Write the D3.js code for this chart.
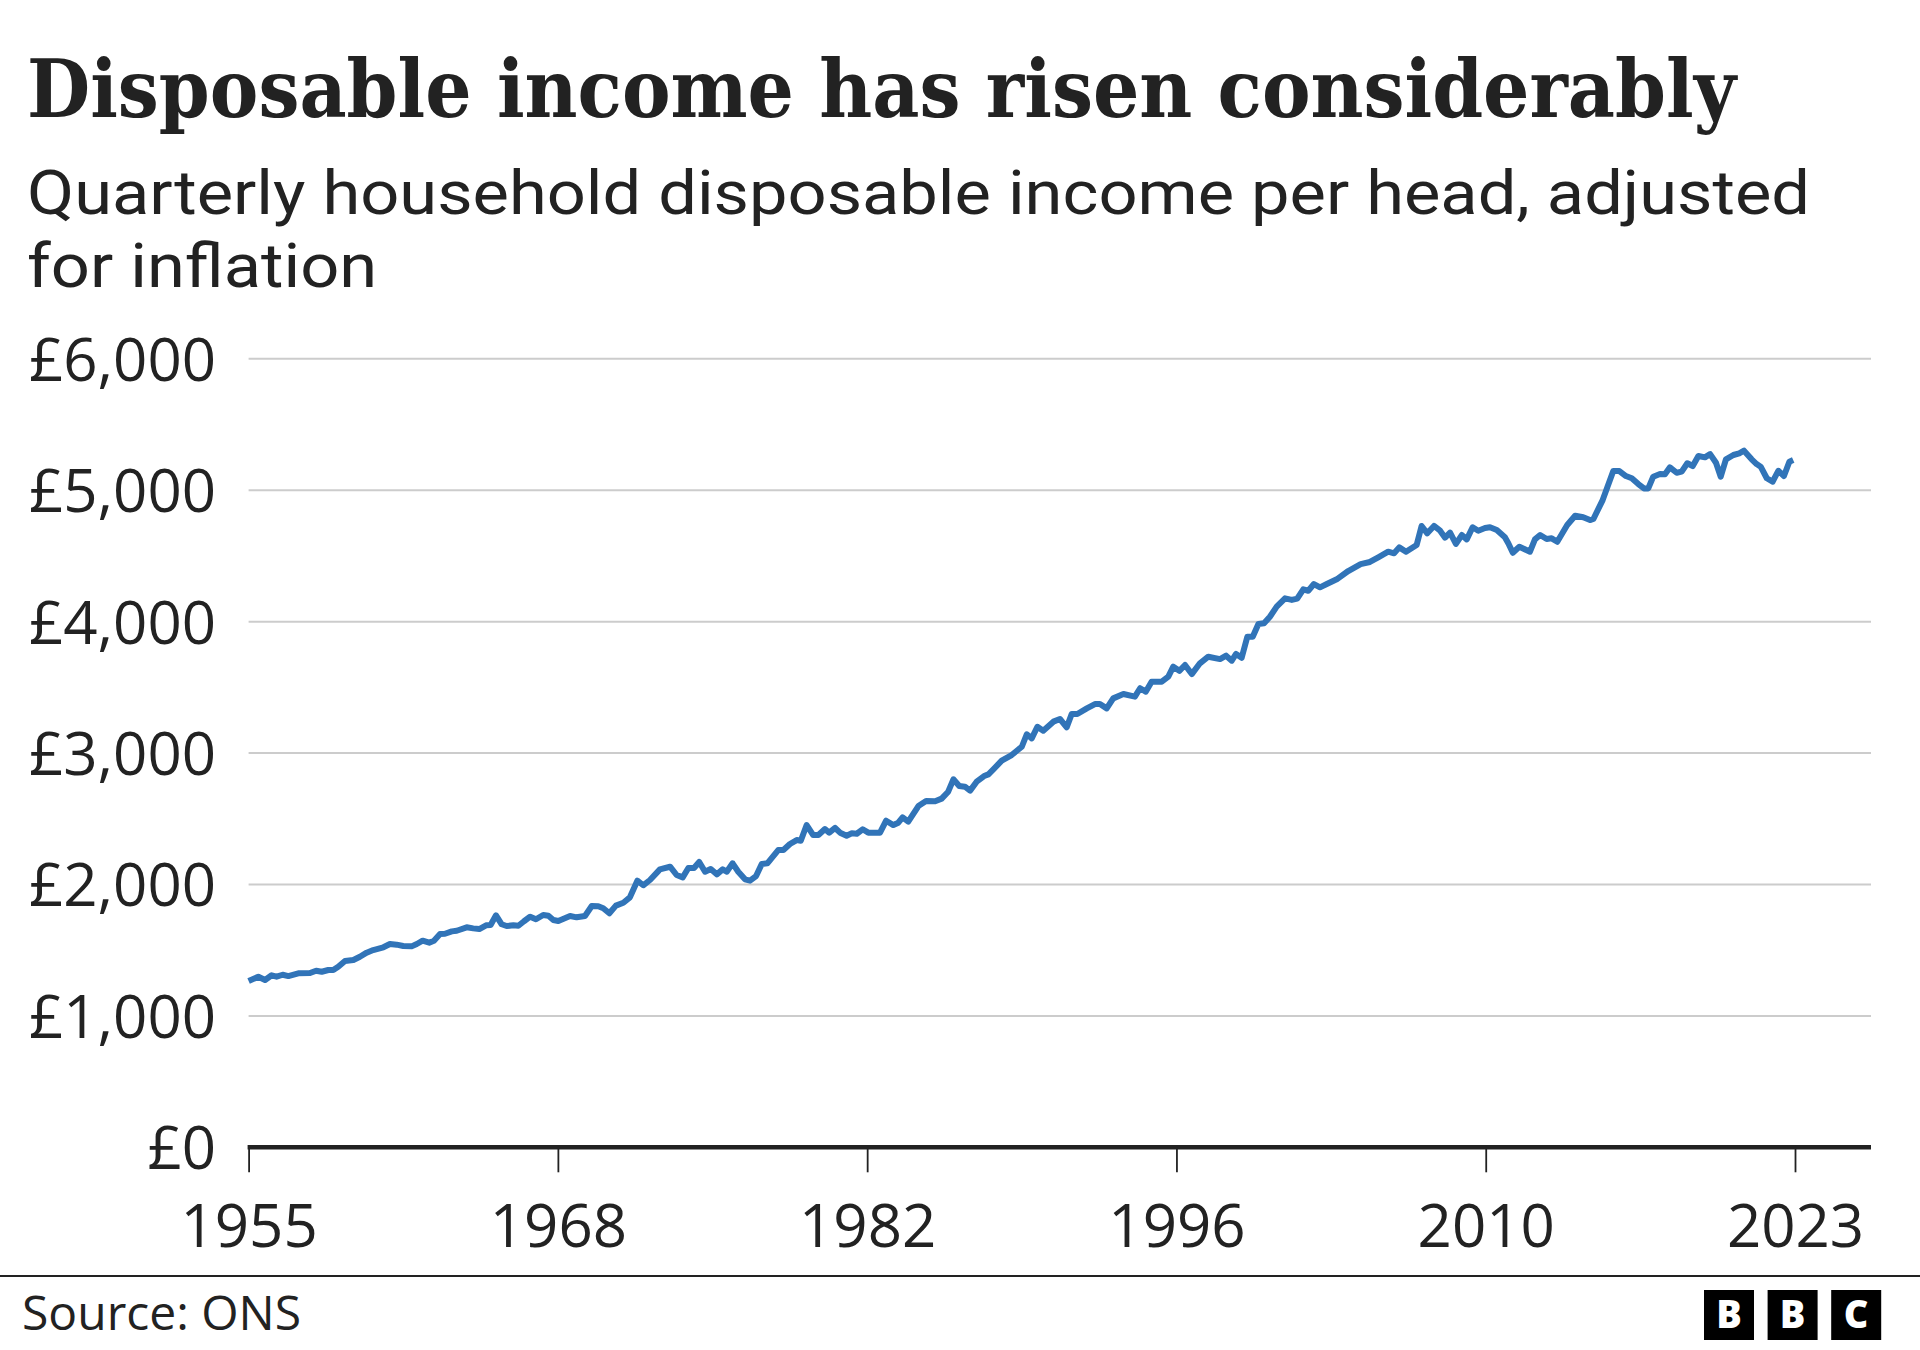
<!DOCTYPE html>
<html>
<head>
<meta charset="utf-8">
<script src="https://cdn.jsdelivr.net/npm/d3@7"></script>
<style>
  html, body { margin: 0; padding: 0; background: #ffffff; }
  svg { display: block; }
</style>
</head>
<body>
<svg id="chart" width="1920" height="1350"></svg>
<script>
// ---- Text ----
const titleText = "Disposable income has risen considerably";
const subtitleLines = ["Quarterly household disposable income per head, adjusted", "for inflation"];
const sourceText = "Source: ONS";
const logoLetters = ["B", "B", "C"];

// ---- Axes ----
const yTickValues = [0, 1000, 2000, 3000, 4000, 5000, 6000];
const xTickLabels = ["1955", "1968", "1982", "1996", "2010", "2023"];
const xDomain = [1955, 2023.5];

// ---- Series: quarterly household disposable income per head (£, real) ----
const dates = [
  1955.00, 1955.43, 1955.73, 1956.02, 1956.24, 1956.51, 1956.76, 1957.20, 1957.72, 1957.99,
  1958.24, 1958.53, 1958.75, 1958.97, 1959.27, 1959.64, 1959.93, 1960.23, 1960.52, 1960.97,
  1961.26, 1961.56, 1961.85, 1962.22, 1962.45, 1962.71, 1963.00, 1963.21, 1963.48, 1963.70,
  1964.00, 1964.22, 1964.66, 1964.95, 1965.22, 1965.52, 1965.72, 1965.96, 1966.21, 1966.43,
  1966.73, 1966.95, 1967.20, 1967.47, 1967.73, 1968.05, 1968.28, 1968.50, 1968.72, 1969.24,
  1969.53, 1969.90, 1970.20, 1970.49, 1970.71, 1970.98, 1971.27, 1971.60, 1971.89, 1972.22,
  1972.48, 1972.78, 1973.22, 1973.67, 1973.96, 1974.23, 1974.48, 1974.73, 1974.96, 1975.22,
  1975.47, 1975.74, 1976.00, 1976.18, 1976.44, 1976.69, 1976.99, 1977.21, 1977.48, 1977.73,
  1977.98, 1978.46, 1978.69, 1978.98, 1979.28, 1979.46, 1979.72, 1980.01, 1980.24, 1980.53,
  1980.72, 1980.98, 1981.20, 1981.49, 1981.72, 1981.94, 1982.20, 1982.45, 1982.97, 1983.24,
  1983.56, 1983.78, 1983.97, 1984.22, 1984.67, 1985.01, 1985.41, 1985.70, 1985.99, 1986.22,
  1986.48, 1986.73, 1986.96, 1987.25, 1987.58, 1987.77, 1987.99, 1988.36, 1988.80, 1989.25,
  1989.47, 1989.69, 1989.94, 1990.20, 1990.65, 1990.94, 1991.24, 1991.46, 1991.71, 1992.13,
  1992.49, 1992.71, 1993.01, 1993.30, 1993.75, 1994.26, 1994.49, 1994.74, 1995.00, 1995.45,
  1995.74, 1995.96, 1996.23, 1996.48, 1996.78, 1997.14, 1997.51, 1998.03, 1998.30, 1998.55,
  1998.74, 1998.99, 1999.24, 1999.48, 1999.73, 1999.98, 2000.24, 2000.54, 2000.91, 2001.21,
  2001.45, 2001.72, 2001.94, 2002.19, 2002.46, 2002.76, 2003.20, 2003.71, 2004.26, 2004.67,
  2005.04, 2005.48, 2005.74, 2005.97, 2006.27, 2006.74, 2006.96, 2007.21, 2007.51, 2007.78,
  2008.00, 2008.22, 2008.48, 2008.74, 2008.96, 2009.22, 2009.47, 2009.77, 2009.99, 2010.29,
  2010.65, 2010.80, 2011.00, 2011.29, 2011.76, 2011.98, 2012.21, 2012.50, 2012.72, 2012.97,
  2013.41, 2013.76, 2014.12, 2014.42, 2014.57, 2014.98, 2015.45, 2015.72, 2016.01, 2016.27,
  2016.56, 2016.81, 2017.00, 2017.22, 2017.52, 2017.74, 2017.96, 2018.26, 2018.48, 2018.73,
  2018.97, 2019.22, 2019.51, 2019.74, 2020.00, 2020.21, 2020.44, 2020.77, 2021.03, 2021.24,
  2021.58, 2021.80, 2021.98, 2022.25, 2022.51, 2022.76, 2023.01, 2023.25, 2023.42
];
const income = [
  1265, 1298, 1273, 1309, 1298, 1313, 1303, 1324, 1326, 1344,
  1336, 1349, 1349, 1374, 1418, 1425, 1450, 1481, 1501, 1522,
  1547, 1542, 1532, 1529, 1547, 1572, 1557, 1572, 1623, 1625,
  1643, 1648, 1674, 1666, 1661, 1689, 1692, 1765, 1697, 1684,
  1689, 1686, 1720, 1755, 1735, 1768, 1762, 1730, 1722, 1760,
  1750, 1760, 1836, 1834, 1819, 1781, 1839, 1861, 1902, 2029,
  1994, 2034, 2115, 2135, 2072, 2054, 2125, 2125, 2171, 2097,
  2118, 2077, 2115, 2097, 2161, 2097, 2039, 2029, 2064, 2156,
  2161, 2262, 2262, 2308, 2338, 2333, 2452, 2376, 2376, 2422,
  2394, 2430, 2394, 2371, 2389, 2386, 2420, 2394, 2394, 2485,
  2452, 2470, 2511, 2478, 2597, 2635, 2633, 2653, 2706, 2800,
  2749, 2744, 2714, 2782, 2825, 2838, 2876, 2942, 2985, 3048,
  3143, 3112, 3200, 3170, 3239, 3259, 3196, 3297, 3297, 3340,
  3373, 3373, 3340, 3416, 3449, 3429, 3493, 3467, 3543, 3543,
  3581, 3657, 3626, 3670, 3601, 3683, 3733, 3715, 3741, 3703,
  3754, 3725, 3885, 3885, 3982, 3987, 4037, 4114, 4177, 4165,
  4175, 4246, 4235, 4286, 4261, 4286, 4322, 4385, 4438, 4454,
  4489, 4532, 4520, 4565, 4532, 4583, 4728, 4672, 4728, 4692,
  4639, 4677, 4591, 4659, 4626, 4718, 4692, 4712, 4718, 4697,
  4642, 4596, 4524, 4570, 4532, 4626, 4659, 4629, 4634, 4608,
  4735, 4806, 4794, 4773, 4781, 4925, 5146, 5146, 5108, 5091,
  5047, 5014, 5014, 5103, 5123, 5121, 5174, 5133, 5141, 5205,
  5184, 5260, 5250, 5275, 5209, 5103, 5235, 5268, 5281, 5301,
  5235, 5199, 5179, 5091, 5065, 5148, 5108, 5217, 5230
];

// ---- Drawing ----
const svg = d3.select("#chart");
const W = 1920;
const plotLeft = 248.6, plotRight = 1871, lineRight = 1795;
const plotTop = 358.8, plotBottom = 1147.3;
const sansFont = "'Open Sans', 'Noto Sans', sans-serif";
const subFont = "Roboto, 'Open Sans', sans-serif";
const serifFont = "'DejaVu Serif', 'Liberation Serif', serif";
const ink = "#222222";

svg.append("rect").attr("width", W).attr("height", 1350).attr("fill", "#ffffff");

const x = d3.scaleLinear().domain(xDomain).range([plotLeft, lineRight]);
const y = d3.scaleLinear().domain([0, 6000]).range([plotBottom, plotTop]);

// Title
const title = svg.append("text")
  .attr("x", 27).attr("y", 117)
  .attr("font-family", serifFont)
  .attr("font-weight", 700)
  .attr("font-size", 80)
  .style("font-stretch", "condensed")
  .attr("fill", ink)
  .text(titleText);
title.attr("textLength", 1709).attr("lengthAdjust", "spacingAndGlyphs");

// Subtitle (one text element, two lines)
const subBaselines = [213.5, 287];
const sub = svg.append("text")
  .attr("font-family", subFont)
  .attr("font-size", 62)
  .attr("fill", ink);
const spans = subtitleLines.map((s, i) => sub.append("tspan")
  .attr("x", 27).attr("y", subBaselines[i])
  .text(s));
const w0 = spans[0].node().getComputedTextLength();
const ratio = 1783 / w0;
spans.forEach(n => {
  const w = n.node().getComputedTextLength();
  n.attr("textLength", w * ratio).attr("lengthAdjust", "spacingAndGlyphs");
});

// Gridlines
const yFmt = v => "£" + d3.format(",")(v);
svg.append("g").selectAll("line")
  .data(yTickValues.filter(v => v > 0))
  .join("line")
  .attr("x1", plotLeft).attr("x2", plotRight)
  .attr("y1", d => y(d)).attr("y2", d => y(d))
  .attr("stroke", "#cccccc").attr("stroke-width", 2);

// Y labels
svg.append("g").selectAll("text")
  .data(yTickValues)
  .join("text")
  .attr("x", 216)
  .attr("y", d => y(d) + 22)
  .attr("text-anchor", "end")
  .attr("font-family", sansFont)
  .attr("font-size", 60)
  .attr("fill", ink)
  .text(yFmt);

// X axis
const xTickVals = d3.range(xTickLabels.length).map(i => xDomain[0] + i * (xDomain[1] - xDomain[0]) / (xTickLabels.length - 1));
const xAxis = d3.axisBottom(x)
  .tickValues(xTickVals)
  .tickFormat((d, i) => xTickLabels[i])
  .tickSize(25)
  .tickSizeOuter(0);
const gx = svg.append("g").attr("transform", `translate(0,${plotBottom})`).call(xAxis);
gx.select(".domain").remove();
gx.selectAll(".tick line").attr("stroke", ink).attr("stroke-width", 1.8);
gx.selectAll(".tick text")
  .attr("y", 100).attr("dy", 0)
  .attr("font-family", sansFont)
  .attr("font-size", 60)
  .attr("fill", ink);

svg.append("line")
  .attr("x1", plotLeft - 1).attr("x2", plotRight)
  .attr("y1", plotBottom).attr("y2", plotBottom)
  .attr("stroke", ink).attr("stroke-width", 4.5);

// Line
const series = dates.map((d, i) => ({ t: d, v: income[i] }));
svg.append("path")
  .datum(series)
  .attr("fill", "none")
  .attr("stroke", "#3174b8")
  .attr("stroke-width", 6)
  .attr("stroke-linejoin", "round")
  .attr("stroke-linecap", "butt")
  .attr("d", d3.line().x(d => x(d.t)).y(d => y(d.v)));

// Footer
svg.append("line")
  .attr("x1", 0).attr("x2", W)
  .attr("y1", 1276).attr("y2", 1276)
  .attr("stroke", ink).attr("stroke-width", 2);

svg.append("text")
  .attr("x", 22).attr("y", 1330)
  .attr("font-family", sansFont)
  .attr("font-size", 48)
  .attr("fill", ink)
  .text(sourceText);

const logo = svg.append("g");
logoLetters.forEach((L, i) => {
  const bx = 1704 + i * 63.6;
  logo.append("rect")
    .attr("x", bx).attr("y", 1290)
    .attr("width", 50).attr("height", 50)
    .attr("fill", "#000000");
  logo.append("text")
    .attr("x", bx + 25).attr("y", 1328)
    .attr("text-anchor", "middle")
    .attr("font-family", "'Open Sans', 'DejaVu Sans', sans-serif")
    .attr("font-weight", 800)
    .attr("font-size", 38)
    .attr("fill", "#ffffff")
    .text(L);
});
</script>
</body>
</html>
